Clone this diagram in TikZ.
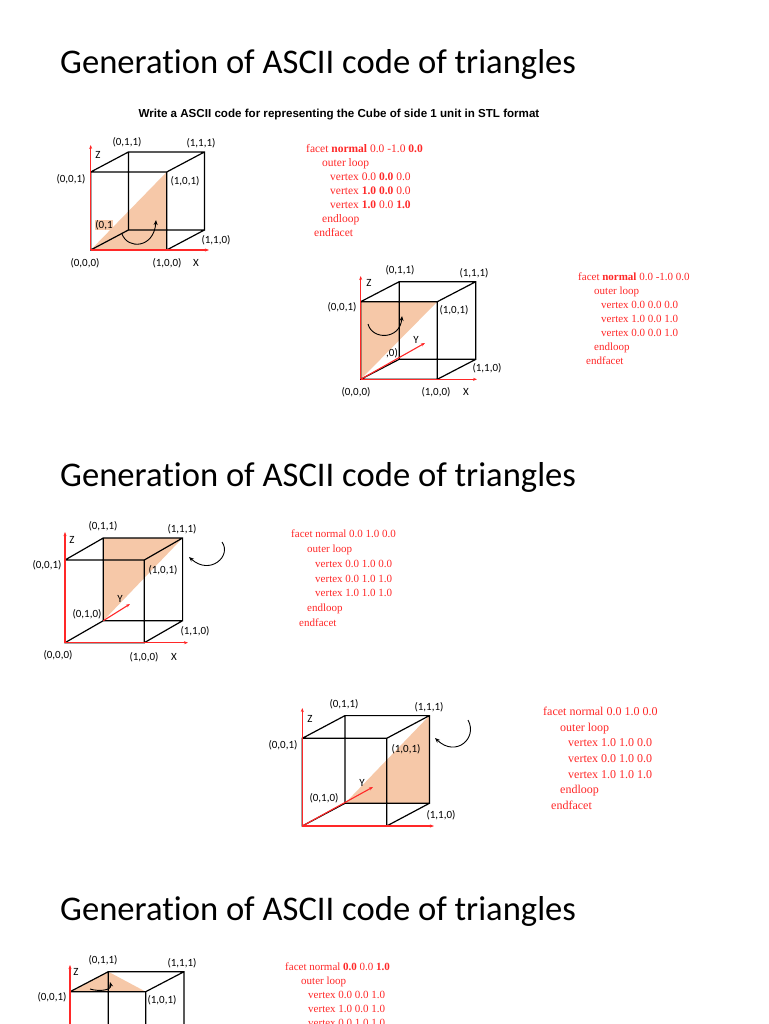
\documentclass[tikz,border=0pt]{standalone}
\usepackage{fontspec}
\setmainfont[Ligatures=NoCommon]{Carlito}
\newfontfamily\codefont{Liberation Serif}
\newfontfamily\headfont{Liberation Sans}
\usetikzlibrary{arrows.meta}
\definecolor{tri}{RGB}{246,200,168}
\definecolor{cred}{RGB}{255,40,40}
\newcommand\defcube[7]{%
 \coordinate (#1a) at (#2,#3);
 \coordinate (#1b) at (#2+#4,#3);
 \coordinate (#1c) at (#2+#4,#3-#5);
 \coordinate (#1d) at (#2,#3-#5);
 \coordinate (#1e) at (#2+#6,#3+#7);
 \coordinate (#1f) at (#2+#4+#6,#3+#7);
 \coordinate (#1g) at (#2+#4+#6,#3-#5+#7);
 \coordinate (#1h) at (#2+#6,#3-#5+#7);}
\newcommand\drawcube[1]{%
 \draw[edge] (#1a)--(#1b)--(#1c)--(#1d)--cycle (#1e)--(#1f)--(#1g)--(#1h)--cycle
 (#1a)--(#1e) (#1b)--(#1f) (#1c)--(#1g) (#1d)--(#1h);}
\begin{document}
\begin{tikzpicture}[x=1pt,y=-1pt,
 edge/.style={line width=1.2pt,black},
 axis/.style={cred,line width=1.1pt,-{Stealth[length=4pt,width=3pt]}},
 lbl/.style={font=\fontsize{11}{11}\selectfont,inner sep=0pt},
 ttl/.style={font=\fontsize{34.6}{35}\selectfont,anchor=base west,inner sep=0pt},
 code/.style={font=\codefont\fontsize{11.5}{14}\selectfont,text=cred,anchor=north west,align=left,inner sep=0pt},
 curv/.style={line width=0.9pt,-{Stealth[length=5pt,width=4pt]}}]
\useasboundingbox (0,0) rectangle (768,1024);
\fill[white] (0,0) rectangle (768,1024);
% titles
\node[ttl] (t1) at (60,74) {Generation of ASCII code of triangles};
\node[ttl] (t2) at (60,486) {Generation of ASCII code of triangles};
\node[ttl] (t3) at (60,920) {Generation of ASCII code of triangles};
\node[font=\headfont\bfseries\fontsize{11.6}{12}\selectfont,inner sep=0pt] (hd) at (339,115) {Write a ASCII code for representing the Cube of side 1 unit in STL format};
% ---- cube 1
\defcube{A}{90.7}{250}{76}{78}{37.7}{-20}
\fill[tri] (Aa)--(Ab)--(Ac)--cycle;
\drawcube{A}
\draw[axis] (Aa)--(90.7,145);
\draw[axis] (Aa)--(209,250);
\draw[curv] (122,234) .. controls (128,250) and (154,248) .. (156,220);
\node[lbl] (a1) at (127,142) {(0,1,1)};
\node[lbl] (a2) at (201,143) {(1,1,1)};
\node[lbl] (a3) at (71,179) {(0,0,1)};
\node[lbl] (a4) at (185,181) {(1,0,1)};
\node[lbl,fill=tri] (a5) at (104,225) {(0,1};
\node[lbl] (a6) at (216,240) {(1,1,0)};
\node[lbl] (a7) at (85,263) {(0,0,0)};
\node[lbl] (a8) at (167,263) {(1,0,0)};
\node[lbl] (a9) at (196,263) {X};
\node[lbl] (a10) at (98,155) {Z};
\node[code] (c1) at (306,144) {facet \textbf{normal} 0.0 -1.0 \textbf{0.0}\\
\hspace*{16pt}outer loop\\
\hspace*{24pt}vertex 0.0 \textbf{0.0} 0.0\\
\hspace*{24pt}vertex \textbf{1.0 0.0} 0.0\\
\hspace*{24pt}vertex \textbf{1.0} 0.0 \textbf{1.0}\\
\hspace*{16pt}endloop\\
\hspace*{8pt}endfacet};
% ---- cube 2
\defcube{B}{360.7}{379.3}{76.6}{77.6}{38.5}{-20}
\fill[tri] (Ba)--(Bc)--(Bd)--cycle;
\drawcube{B}
\draw[axis] (Ba)--(360.7,276);
\draw[axis] (Ba)--(477,379.3);
\draw[axis] (Ba)--(425,343);
\draw[curv] (368,324) .. controls (372,340) and (400,340) .. (402,316);
\node[lbl] (b1) at (400,270) {(0,1,1)};
\node[lbl] (b2) at (474,273) {(1,1,1)};
\node[lbl] (b3) at (342,307) {(0,0,1)};
\node[lbl] (b4) at (454,310) {(1,0,1)};
\node[lbl] (b5) at (392,353) {,0)};
\node[lbl] (b6) at (416,340) {Y};
\node[lbl] (b7) at (487,368) {(1,1,0)};
\node[lbl] (b8) at (356,392) {(0,0,0)};
\node[lbl] (b9) at (436,392) {(1,0,0)};
\node[lbl] (b10) at (466,392) {X};
\node[lbl] (b11) at (369,283) {Z};
\node[code,font=\codefont\fontsize{11}{14}\selectfont] (c2) at (578,273) {facet \textbf{normal} 0.0 -1.0 0.0\\
\hspace*{16pt}outer loop\\
\hspace*{23pt}vertex 0.0 0.0 0.0\\
\hspace*{23pt}vertex 1.0 0.0 1.0\\
\hspace*{23pt}vertex 0.0 0.0 1.0\\
\hspace*{16pt}endloop\\
\hspace*{8pt}endfacet};
% ---- cube 3
\defcube{C}{65}{642.7}{79.3}{82.7}{38.3}{-22}
\fill[tri] (Ce)--(Ch)--(Cg)--cycle;
\drawcube{C}
\draw[axis] (Ca)--(65,532);
\draw[axis] (Ca)--(188,642.7);
\draw[axis] (Ce)--(130,604);
\draw[curv] (222,542) .. controls (232,556) and (210,576) .. (189,557);
\node[lbl] (d1) at (103,526) {(0,1,1)};
\node[lbl] (d2) at (182,529) {(1,1,1)};
\node[lbl] (d3) at (47,565) {(0,0,1)};
\node[lbl] (d4) at (163,570) {(1,0,1)};
\node[lbl] (d5) at (87,614) {(0,1,0)};
\node[lbl] (d6) at (120,599) {Y};
\node[lbl] (d7) at (195,631) {(1,1,0)};
\node[lbl] (d8) at (58,655) {(0,0,0)};
\node[lbl] (d9) at (144,657) {(1,0,0)};
\node[lbl] (d10) at (174,657) {X};
\node[lbl] (d11) at (72,540) {Z};
\node[code,font=\codefont\fontsize{11}{14.7}\selectfont] (c3) at (291,530) {facet normal 0.0 1.0 0.0\\
\hspace*{16pt}outer loop\\
\hspace*{24pt}vertex 0.0 1.0 0.0\\
\hspace*{24pt}vertex 0.0 1.0 1.0\\
\hspace*{24pt}vertex 1.0 1.0 1.0\\
\hspace*{16pt}endloop\\
\hspace*{8pt}endfacet};
% ---- cube 4
\defcube{D}{302.3}{826}{84.4}{87.7}{42.7}{-22.7}
\fill[tri] (Df)--(De)--(Dg)--cycle;
\drawcube{D}
\draw[axis] (Da)--(302.3,708);
\draw[axis] (Da)--(434,826);
\draw[axis] (Da)--(373,787);
\draw[curv] (468,720) .. controls (478,738) and (456,758) .. (435,738);
\node[lbl] (e1) at (344,704) {(0,1,1)};
\node[lbl] (e2) at (429,707) {(1,1,1)};
\node[lbl] (e3) at (283,745) {(0,0,1)};
\node[lbl] (e4) at (406,749) {(1,0,1)};
\node[lbl] (e5) at (324,798) {(0,1,0)};
\node[lbl] (e6) at (362,783) {Y};
\node[lbl] (e7) at (441,815) {(1,1,0)};
\node[lbl] (e8) at (310,719) {Z};
\node[code,font=\codefont\fontsize{12}{15.6}\selectfont] (c4) at (543,707) {facet normal 0.0 1.0 0.0\\
\hspace*{17pt}outer loop\\
\hspace*{25pt}vertex 1.0 1.0 0.0\\
\hspace*{25pt}vertex 0.0 1.0 0.0\\
\hspace*{25pt}vertex 1.0 1.0 1.0\\
\hspace*{17pt}endloop\\
\hspace*{8pt}endfacet};
% ---- cube 5
\defcube{E}{70}{1070}{75.7}{78.3}{38.3}{-20}
\fill[tri] (Ed)--(Ec)--(Eh)--cycle;
\drawcube{E}
\draw[axis] (Ea)--(70,965);
\draw[curv] (90,989) .. controls (100,992) and (112,990) .. (110,982);
\node[lbl] (f1) at (103,960) {(0,1,1)};
\node[lbl] (f2) at (182,963) {(1,1,1)};
\node[lbl] (f3) at (52,997) {(0,0,1)};
\node[lbl] (f4) at (162,1000) {(1,0,1)};
\node[lbl] (f5) at (76,972) {Z};
\node[code,font=\codefont\fontsize{11}{14}\selectfont] (c5) at (285,963) {facet normal \textbf{0.0} 0.0 \textbf{1.0}\\
\hspace*{16pt}outer loop\\
\hspace*{23pt}vertex 0.0 0.0 1.0\\
\hspace*{23pt}vertex 1.0 0.0 1.0\\
\hspace*{23pt}vertex 0.0 1.0 1.0};
\end{tikzpicture}
\end{document}
